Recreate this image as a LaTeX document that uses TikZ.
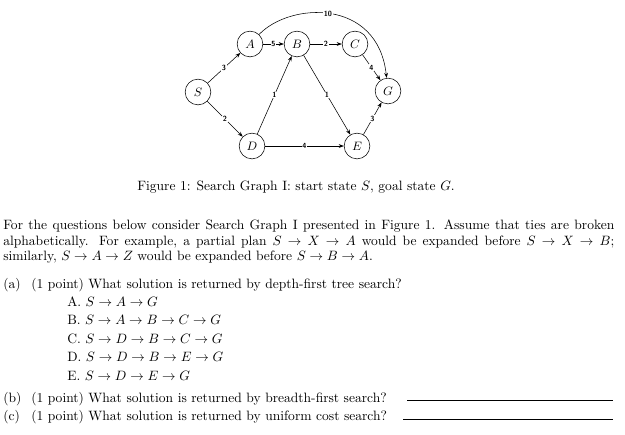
\documentclass[tikz,border=0pt]{standalone}
\usetikzlibrary{arrows.meta}
\begin{document}
\begin{tikzpicture}[x=0.738pt,y=-0.738pt,
  st/.style={circle,draw,line width=0.4pt,minimum size=19pt,inner sep=0pt,font=\small},
  ed/.style={line width=0.4pt,-{Stealth[length=3.8pt,width=2.8pt]}},
  wt/.style={fill=white,inner sep=0.6pt,font=\fontsize{5.5}{6}\selectfont\bfseries\sffamily},
  txt/.style={anchor=base west,inner sep=0pt}]
\useasboundingbox (0,0) rectangle (625,434);
% graph
\node[st] (S) at (198,92) {$S$};
\node[st] (A) at (250,44) {$A$};
\node[st] (B) at (297,44) {$B$};
\node[st] (C) at (355,44) {$C$};
\node[st] (G) at (388,91) {$G$};
\node[st] (D) at (252,146) {$D$};
\node[st] (E) at (357,146) {$E$};
\draw[ed] (S) -- node[wt]{3} (A);
\draw[ed] (S) -- node[wt]{2} (D);
\draw[ed] (A) -- node[wt]{5} (B);
\draw[ed] (B) -- node[wt]{2} (C);
\draw[ed] (C) -- node[wt]{4} (G);
\draw[ed] (D) -- node[wt]{1} (B);
\draw[ed] (B) -- node[wt]{1} (E);
\draw[ed] (D) -- node[wt]{4} (E);
\draw[ed] (E) -- node[wt]{3} (G);
\draw[ed] (A) .. controls (290,2) and (378,-2) .. node[wt,pos=0.48]{10} (G);
% caption
\node[anchor=base,inner sep=0pt] (cap) at (296,190) {Figure 1: Search Graph I: start state $S$, goal state $G$.};
% paragraph
\node[anchor=north west,inner sep=0pt,text width=451pt,align=justify,font=\fontsize{10}{11.4}\selectfont] (para) at (3,220)
{For the questions below consider Search Graph I presented in Figure 1. Assume that ties are broken alphabetically. For example, a partial plan $S \to X \to A$ would be expanded before $S \to X \to B$; similarly, $S \to A \to Z$ would be expanded before $S \to B \to A$.};
% questions
\node[txt] (la) at (3,288) {(a)};
\node[txt] (qa) at (31,288) {(1 point) What solution is returned by depth-first tree search?};
\node[txt] (oa) at (67,306) {A.\ $S \to A \to G$};
\node[txt] (ob) at (67,324) {B.\ $S \to A \to B \to C \to G$};
\node[txt] (oc) at (67,343) {C.\ $S \to D \to B \to C \to G$};
\node[txt] (od) at (67,361) {D.\ $S \to D \to B \to E \to G$};
\node[txt] (oe) at (67,380) {E.\ $S \to D \to E \to G$};
\node[txt] (lb) at (3,402) {(b)};
\node[txt] (qb) at (31,402) {(1 point) What solution is returned by breadth-first search?};
\node[txt] (lc) at (3,420) {(c)};
\node[txt] (qc) at (31,420) {(1 point) What solution is returned by uniform cost search?};
\coordinate (b1) at (407,400); \coordinate (b2) at (613,400);
\coordinate (c1) at (403,419); \coordinate (c2) at (613,419);
\draw[line width=0.5pt] (b1) -- (b2);
\draw[line width=0.5pt] (c1) -- (c2);
\end{tikzpicture}
\end{document}
